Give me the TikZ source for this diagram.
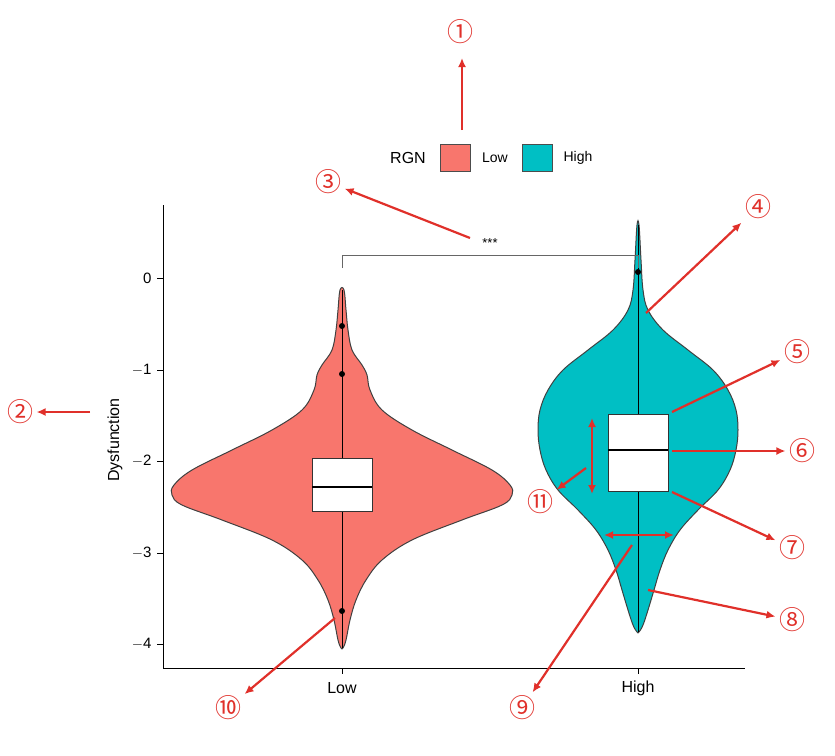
\documentclass[tikz,border=0pt]{standalone}
\usepackage{fontspec}
\setmainfont{Liberation Sans}
\newfontfamily\circfont{Noto Sans CJK SC}
\usetikzlibrary{arrows.meta}
\begin{document}
\begin{tikzpicture}[x=1pt,y=-1pt,
  ann/.style={draw=annred,line width=2.2pt,-{Latex[length=9pt,width=8pt]}},
  num/.style={text=annred,font=\circfont\fontsize{26}{26}\selectfont},
  tick/.style={font=\fontsize{15}{15}\selectfont,anchor=east},
  vio/.style={draw=black!75,line width=1pt},
  bx/.style={draw=black!80,fill=white,line width=1pt}]
\definecolor{annred}{HTML}{E0302A}
\definecolor{lowc}{HTML}{F8766D}
\definecolor{highc}{HTML}{00BFC4}
\useasboundingbox (0,0) rectangle (835,755);
% axes
\draw[line width=1pt] (163,205) -- (163,668) -- (745,668);
\foreach \y/\l in {278/0,370/$-$1,461/$-$2,553/$-$3,644/$-$4}{
  \draw (157,\y) -- (163,\y); \node[tick] at (155,\y) {\l};}
\draw (342,668) -- (342,674); \draw (638,668) -- (638,674);
\node[font=\fontsize{16}{16}\selectfont] (xl) at (342,688) {Low};
\node[font=\fontsize{16}{16}\selectfont] (xh) at (638,688) {High};
\node[font=\fontsize{16}{16}\selectfont,rotate=90] (yl) at (115,440) {Dysfunction};
% legend
\node[font=\fontsize{16}{16}\selectfont] (rgn) at (408,158) {RGN};
\node[draw=black!70,fill=lowc,minimum width=30pt,minimum height=27pt,inner sep=0] (lk) at (455,158) {};
\node[font=\fontsize{14}{14}\selectfont] (lt) at (495,158) {Low};
\node[draw=black!70,fill=highc,minimum width=30pt,minimum height=27pt,inner sep=0] (hk) at (537,158) {};
\node[font=\fontsize{14}{14}\selectfont] (ht) at (578,158) {High};
% violins
\draw[vio,fill=lowc] plot[smooth cycle,tension=0.6] coordinates {(344,290)(346,310)(348,330)(352,350)(362,365)(367,375)(370,390)(382,410)(412,430)(452,450)(492,470)(510,485)(512,495)(502,505)(462,520)(412,540)(382,560)(366,580)(356,600)(350,620)(346,640)(343,648)(341,648)(338,640)(334,620)(328,600)(318,580)(302,560)(272,540)(222,520)(182,505)(172,495)(174,485)(192,470)(232,450)(272,430)(302,410)(314,390)(317,375)(322,365)(332,350)(336,330)(338,310)(340,290)};
\draw[vio,fill=highc] plot[smooth cycle,tension=0.6] coordinates {(639,225)(641,260)(643,290)(648,310)(663,330)(688,350)(713,370)(728,390)(736,410)(738,430)(736,450)(730,470)(718,490)(698,510)(680,530)(668,550)(660,570)(654,590)(648,610)(643,625)(639,632)(637,632)(633,625)(628,610)(622,590)(616,570)(608,550)(596,530)(578,510)(558,490)(546,470)(540,450)(538,430)(540,410)(548,390)(563,370)(588,350)(613,330)(628,310)(633,290)(635,260)(637,225)};
% whiskers and boxes
\draw[line width=1pt] (342,290) -- (342,648);
\draw[line width=1pt] (638,225) -- (638,632);
\draw[bx] (312,458) rectangle (372,511); \draw[line width=2pt] (312,487) -- (372,487);
\draw[bx] (608,414) rectangle (668,491); \draw[line width=2pt] (608,450) -- (668,450);
\foreach \p in {(342,326),(342,374),(342,611),(638,272)} \fill \p circle (3pt);
% significance
\draw[black!60,line width=1pt] (342,268) -- (342,255) -- (638,255) -- (638,268);
\node[font=\fontsize{13}{13}\selectfont] (sig) at (490,243) {***};
% annotations
\node[num] (n1) at (460,32) {①};
\node[num] (n2) at (20,412) {②};
\node[num] (n3) at (328,182) {③};
\node[num] (n4) at (758,207) {④};
\node[num] (n5) at (797,352) {⑤};
\node[num] (n6) at (802,451) {⑥};
\node[num] (n7) at (792,548) {⑦};
\node[num] (n8) at (792,620) {⑧};
\node[num] (n9) at (522,708) {⑨};
\node[num] (n10) at (228,708) {⑩};
\node[num] (n11) at (540,502) {⑪};
\coordinate (a1) at (462,130); \coordinate (b1) at (462,58);
\draw[ann] (a1) -- (b1);
\coordinate (a2) at (90,412); \draw[ann] (a2) -- (n2);
\coordinate (a3) at (470,238); \draw[ann] (a3) -- (n3);
\coordinate (a4) at (646,313); \draw[ann] (a4) -- (n4);
\coordinate (a5) at (672,412); \draw[ann] (a5) -- (n5);
\coordinate (a6) at (672,451); \draw[ann] (a6) -- (n6);
\coordinate (a7) at (672,492); \draw[ann] (a7) -- (n7);
\coordinate (a8) at (648,590); \draw[ann] (a8) -- (n8);
\coordinate (a9) at (632,545); \draw[ann] (a9) -- (n9);
\coordinate (a10) at (335,618); \draw[ann] (a10) -- (n10);
\coordinate (a11) at (586,468); \draw[ann] (a11) -- (n11);
\coordinate (v1) at (592,418); \coordinate (v2) at (592,494);
\draw[ann,{Latex[length=9pt,width=8pt]}-{Latex[length=9pt,width=8pt]}] (v1) -- (v2);
\coordinate (h1) at (604,535); \coordinate (h2) at (674,535);
\draw[ann,{Latex[length=9pt,width=8pt]}-{Latex[length=9pt,width=8pt]}] (h1) -- (h2);
\end{tikzpicture}
\end{document}
